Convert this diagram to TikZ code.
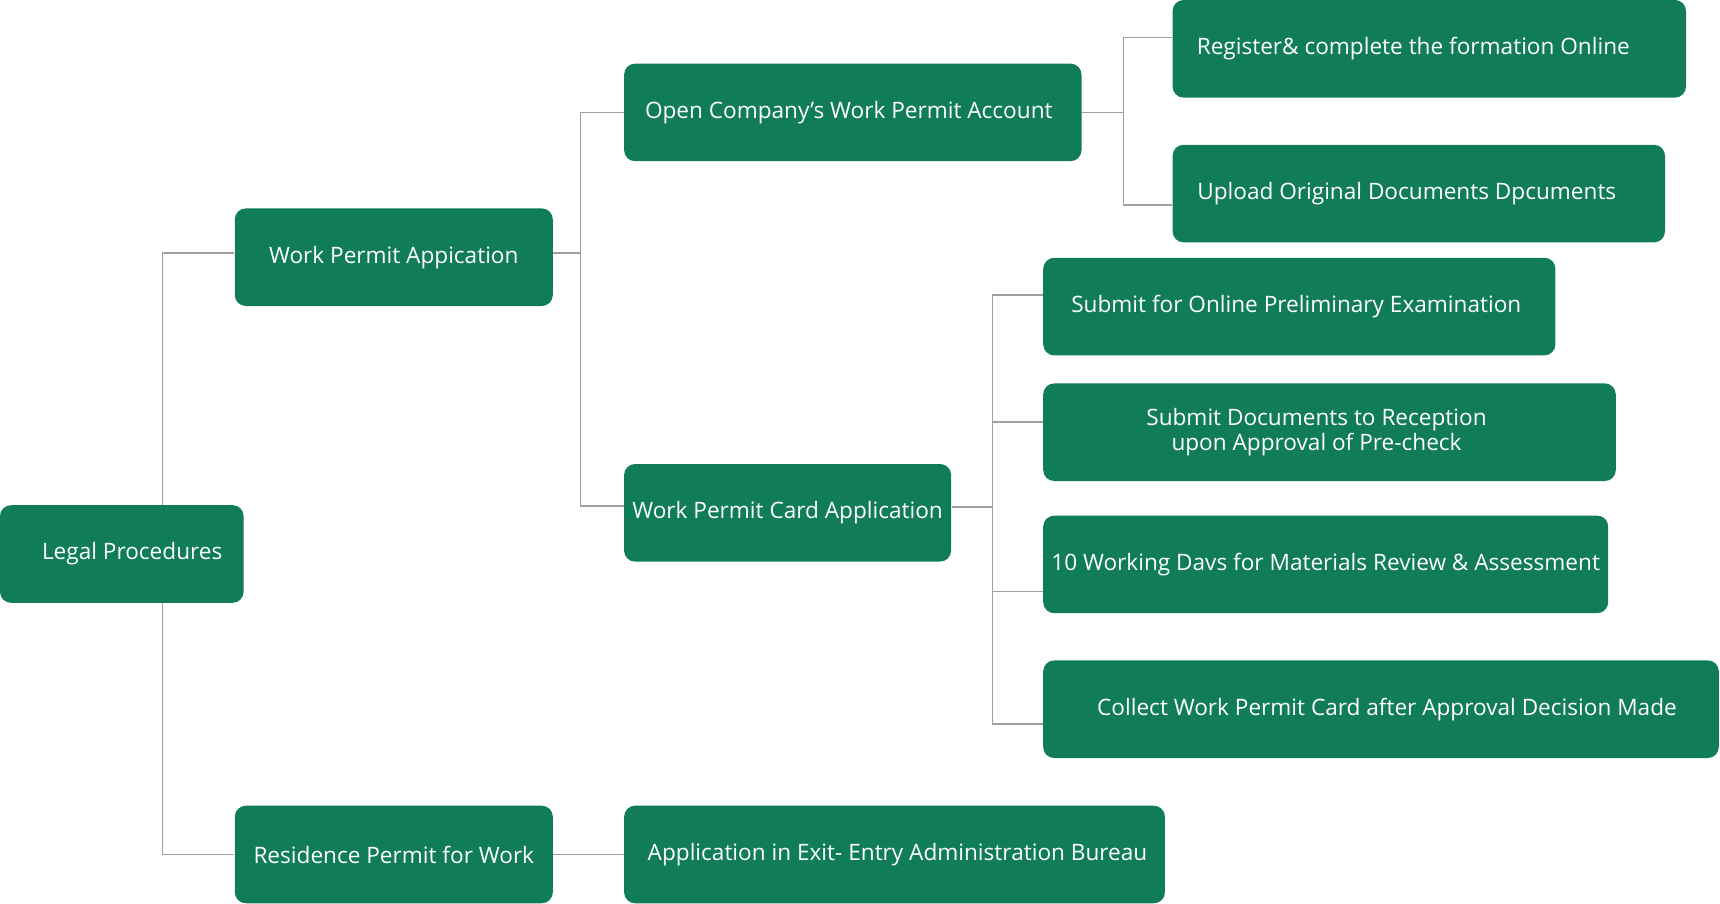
\documentclass[tikz,border=0pt]{standalone}
\usepackage{fontspec}
\setmainfont{Open Sans}
\usetikzlibrary{positioning,backgrounds}
\definecolor{permitgreen}{RGB}{16,124,88}
\definecolor{linkgray}{RGB}{160,160,160}
\tikzset{
  procbox/.style={rounded corners=5.5pt, fill=permitgreen, text=white,
    minimum height=48.8pt, inner sep=0pt, align=center,
    font=\fontsize{11.3}{12.5}\selectfont},
  link/.style={draw=linkgray, line width=0.75pt}
}

\begin{document}
\begin{tikzpicture}[x=0.5pt,y=-0.5pt]
    \useasboundingbox (0,0) rectangle (1720,904);
    % level 0 and 1
    \node[procbox, minimum width=121.8pt] (legal) at (121.8,554) {\hspace*{10.4pt}Legal Procedures};
    \node[procbox, minimum width=159pt] (wpa) at (393.8,257.2) {Work Permit Appication};
    \node[procbox, minimum width=159pt] (rpw) at (393.8,854.5) {Residence Permit for Work};
    % level 2
    \node[procbox, minimum width=228.7pt] (oca) at (852.8,112.4) {Open Company’s Work Permit Account\hspace*{4pt}};
    \node[procbox, minimum width=163.5pt] (wpca) at (787.6,512.8) {Work Permit Card Application};
    \node[procbox, minimum width=270.4pt] (aeb) at (894.5,854.5) {\hspace*{3pt}Application in Exit- Entry Administration Bureau};
    % level 3
    \node[procbox, minimum width=256.7pt] (reg) at (1429.3,48.8) {Register\& complete the formation Online\hspace*{16pt}};
    \node[procbox, minimum width=246.2pt] (upl) at (1418.8,193.6) {Upload Original Documents Dpcuments\hspace*{12pt}};
    \node[procbox, minimum width=256.1pt] (sub1) at (1299.3,306.6) {Submit for Online Preliminary Examination\hspace*{3pt}};
    \node[procbox, minimum width=286.3pt] (sub2) at (1329.5,432.2) {Submit Documents to Reception\hspace*{13pt}\\upon Approval of Pre-check\hspace*{13pt}};
    \node[procbox, minimum width=282.5pt] (rev) at (1325.7,564.4) {10 Working Davs for Materials Review \& Assessment};
    \node[procbox, minimum width=337.8pt] (col) at (1381,709.2) {\hspace*{6pt}Collect Work Permit Card after Approval Decision Made};

    % connectors
    \begin{scope}[on background layer]
        \coordinate (trunk) at (162.3,0);
        \coordinate (fork1) at (580.3,0);
        \coordinate (fork2) at (1123.4,0);
        \coordinate (fork3) at (992.7,0);
        \coordinate (wpaout) at ([yshift=2pt]wpa.west);
        \coordinate (wpaend) at ([yshift=2pt]wpa.east);
        \coordinate (wpcain) at ([yshift=3.5pt]wpca.west);
        \coordinate (wpcaout) at ([yshift=3pt]wpca.east);
        \coordinate (regin) at ([yshift=5.75pt]reg.west);
        \coordinate (uplin) at ([yshift=-5.75pt]upl.west);
        \coordinate (sub1in) at ([yshift=5.75pt]sub1.west);
        \coordinate (sub2in) at ([yshift=5pt]sub2.west);
        \coordinate (revin) at ([yshift=-13.5pt]rev.west);
        \coordinate (colin) at ([yshift=-7.4pt]col.west);

        \draw[link] (wpaout) -| (trunk |- rpw.west) -- (rpw.west);
        \draw[link] (oca.west) -| (fork1 |- wpcain) -- (wpcain);
        \draw[link] (wpaend) -- (fork1 |- wpaend);
        \draw[link] (oca.east) -- (fork2 |- oca.east);
        \draw[link] (regin) -| (fork2 |- uplin) -- (uplin);
        \draw[link] (wpcaout) -- (fork3 |- wpcaout);
        \draw[link] (sub1in) -| (fork3 |- colin) -- (colin);
        \draw[link] (fork3 |- sub2in) -- (sub2in);
        \draw[link] (fork3 |- revin) -- (revin);
        \draw[link] (rpw.east) -- (aeb.west);
    \end{scope}
\end{tikzpicture}
\end{document}
